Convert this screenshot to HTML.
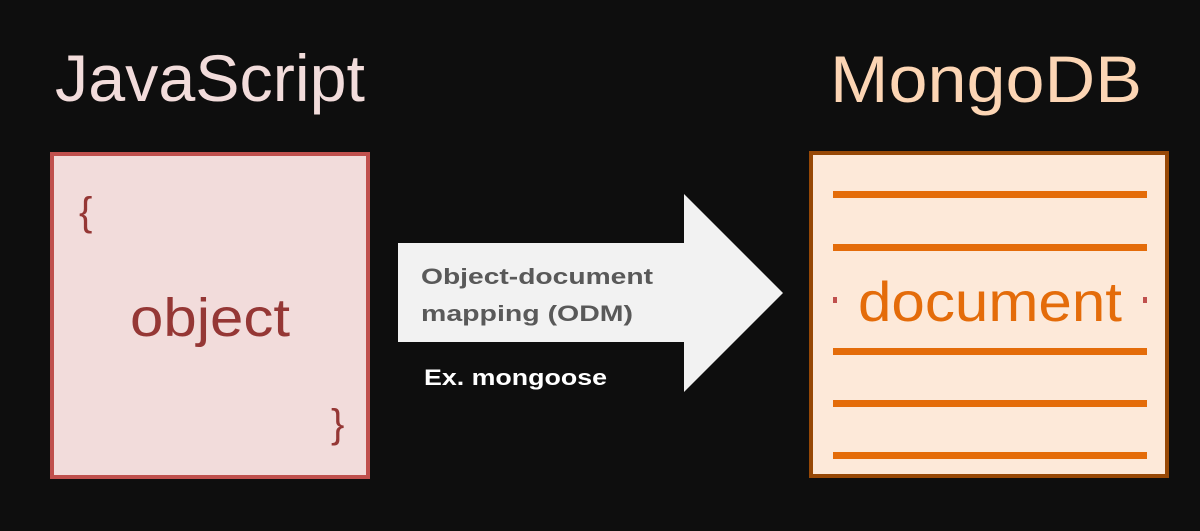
<!DOCTYPE html>
<html><head><meta charset="utf-8"><style>
html,body{margin:0;padding:0;background:#0e0e0e;}
svg{display:block;}
text{font-family:"Liberation Sans",sans-serif;}
</style></head><body>
<svg width="1200" height="531" viewBox="0 0 1200 531" xmlns="http://www.w3.org/2000/svg">
<rect width="1200" height="531" fill="#0e0e0e"/>
<text x="55" y="101" font-size="66" fill="#f2dcdb" textLength="310" lengthAdjust="spacingAndGlyphs">JavaScript</text>
<text x="830" y="102" font-size="66" fill="#fcd5b4" textLength="312" lengthAdjust="spacingAndGlyphs">MongoDB</text>
<rect x="52" y="154" width="316" height="323" fill="#f2dcdb" stroke="#c0504d" stroke-width="4"/>
<text x="79" y="225" font-size="40" fill="#953735">{</text>
<text x="331" y="437" font-size="40" fill="#953735">}</text>
<text x="210" y="336" font-size="54" fill="#953735" text-anchor="middle" textLength="160" lengthAdjust="spacingAndGlyphs">object</text>
<polygon points="398,243 684,243 684,194 783,293 684,392 684,342 398,342" fill="#f2f2f2"/>
<text x="421" y="284" font-size="22" font-weight="bold" fill="#595959" textLength="232" lengthAdjust="spacingAndGlyphs">Object-document</text>
<text x="421" y="321" font-size="22" font-weight="bold" fill="#595959" textLength="212" lengthAdjust="spacingAndGlyphs">mapping (ODM)</text>
<text x="424" y="385" font-size="22" font-weight="bold" fill="#ffffff" textLength="183" lengthAdjust="spacingAndGlyphs">Ex. mongoose</text>
<rect x="811" y="153" width="356" height="323" fill="#fde9d9" stroke="#974806" stroke-width="4"/>
<g fill="#e46c0a">
<rect x="833" y="191" width="314" height="7"/>
<rect x="833" y="244" width="314" height="7"/>
<rect x="833" y="348" width="314" height="7"/>
<rect x="833" y="400" width="314" height="7"/>
<rect x="833" y="452" width="314" height="7"/>
</g>
<rect x="833" y="297" width="4" height="6" fill="#c0504d"/>
<rect x="1143" y="297" width="4" height="6" fill="#c0504d"/>
<text x="990" y="321" font-size="56" fill="#e46c0a" text-anchor="middle" textLength="264" lengthAdjust="spacingAndGlyphs">document</text>
</svg>
</body></html>
